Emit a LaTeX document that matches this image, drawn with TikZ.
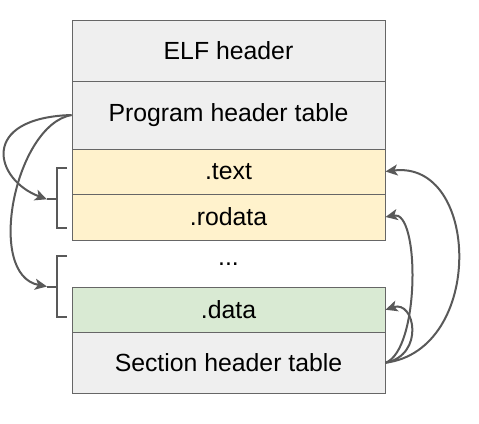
\documentclass[tikz,border=0pt]{standalone}
\usepackage{fontspec}
\setmainfont{Liberation Sans}
\usetikzlibrary{arrows.meta}
\definecolor{hdrgray}{HTML}{EFEFEF}
\definecolor{secyellow}{HTML}{FFF2CC}
\definecolor{secgreen}{HTML}{D9EAD3}
\definecolor{edgegray}{HTML}{666666}
\definecolor{ptrgray}{HTML}{595959}
\tikzset{
  sect/.style={draw=edgegray, line width=1pt, minimum width=313pt, inner sep=0pt,
    font=\fontsize{24.8}{29}\selectfont},
  ptr/.style={draw=ptrgray, line width=2pt, -{Stealth[length=12pt,width=11pt,inset=3pt]}},
  brak/.style={draw=ptrgray, line width=2pt}
}
\begin{document}
\begin{tikzpicture}[x=1pt,y=-1pt]
      \useasboundingbox (0,0) rectangle (479,423);
      % file layout
      \node[sect, fill=hdrgray, minimum height=60.3pt] (elf) at (228.5,50.85) {ELF header};
      \node[sect, fill=hdrgray, minimum height=68pt] (pht) at (228.5,115) {Program header table};
      \node[sect, fill=secyellow, minimum height=45pt] (text) at (228.5,171.5) {.text};
      \node[sect, fill=secyellow, minimum height=46pt] (rodata) at (228.5,217) {.rodata};
      \node[font=\fontsize{24.8}{29}\selectfont, inner sep=0pt] (dots) at (228.5,264) {...};
      \node[sect, fill=secgreen, minimum height=45.5pt] (data) at (228.5,309.75) {.data};
      \node[sect, fill=hdrgray, minimum height=60.5pt] (sht) at (228.5,362.75) {Section header table};
      % segment brackets
      \coordinate (seg1) at (47,199.3);
      \coordinate (seg2) at (47,286.5);
      \draw[brak] (67,168) -- (57,168) -- (57,228) -- (67,228) (57,199.3) -- (seg1);
      \draw[brak] (67,256) -- (57,256) -- (57,317) -- (67,317) (57,286.5) -- (seg2);
      % program headers point to segments
      \draw[ptr] (pht.west) .. controls (-22,118) and (-5,180) .. (seg1);
      \draw[ptr] (pht.west) .. controls (15,125) and (-15,275) .. (seg2);
      % section headers point to sections
      \draw[ptr] (sht.east) .. controls (485,350) and (480,160) .. (text.east);
      \draw[ptr] (sht.east) .. controls (420,350) and (420,210) .. (rodata.east);
      \draw[ptr] (sht.east) .. controls (425,355) and (415,300) .. (data.east);
\end{tikzpicture}
\end{document}
